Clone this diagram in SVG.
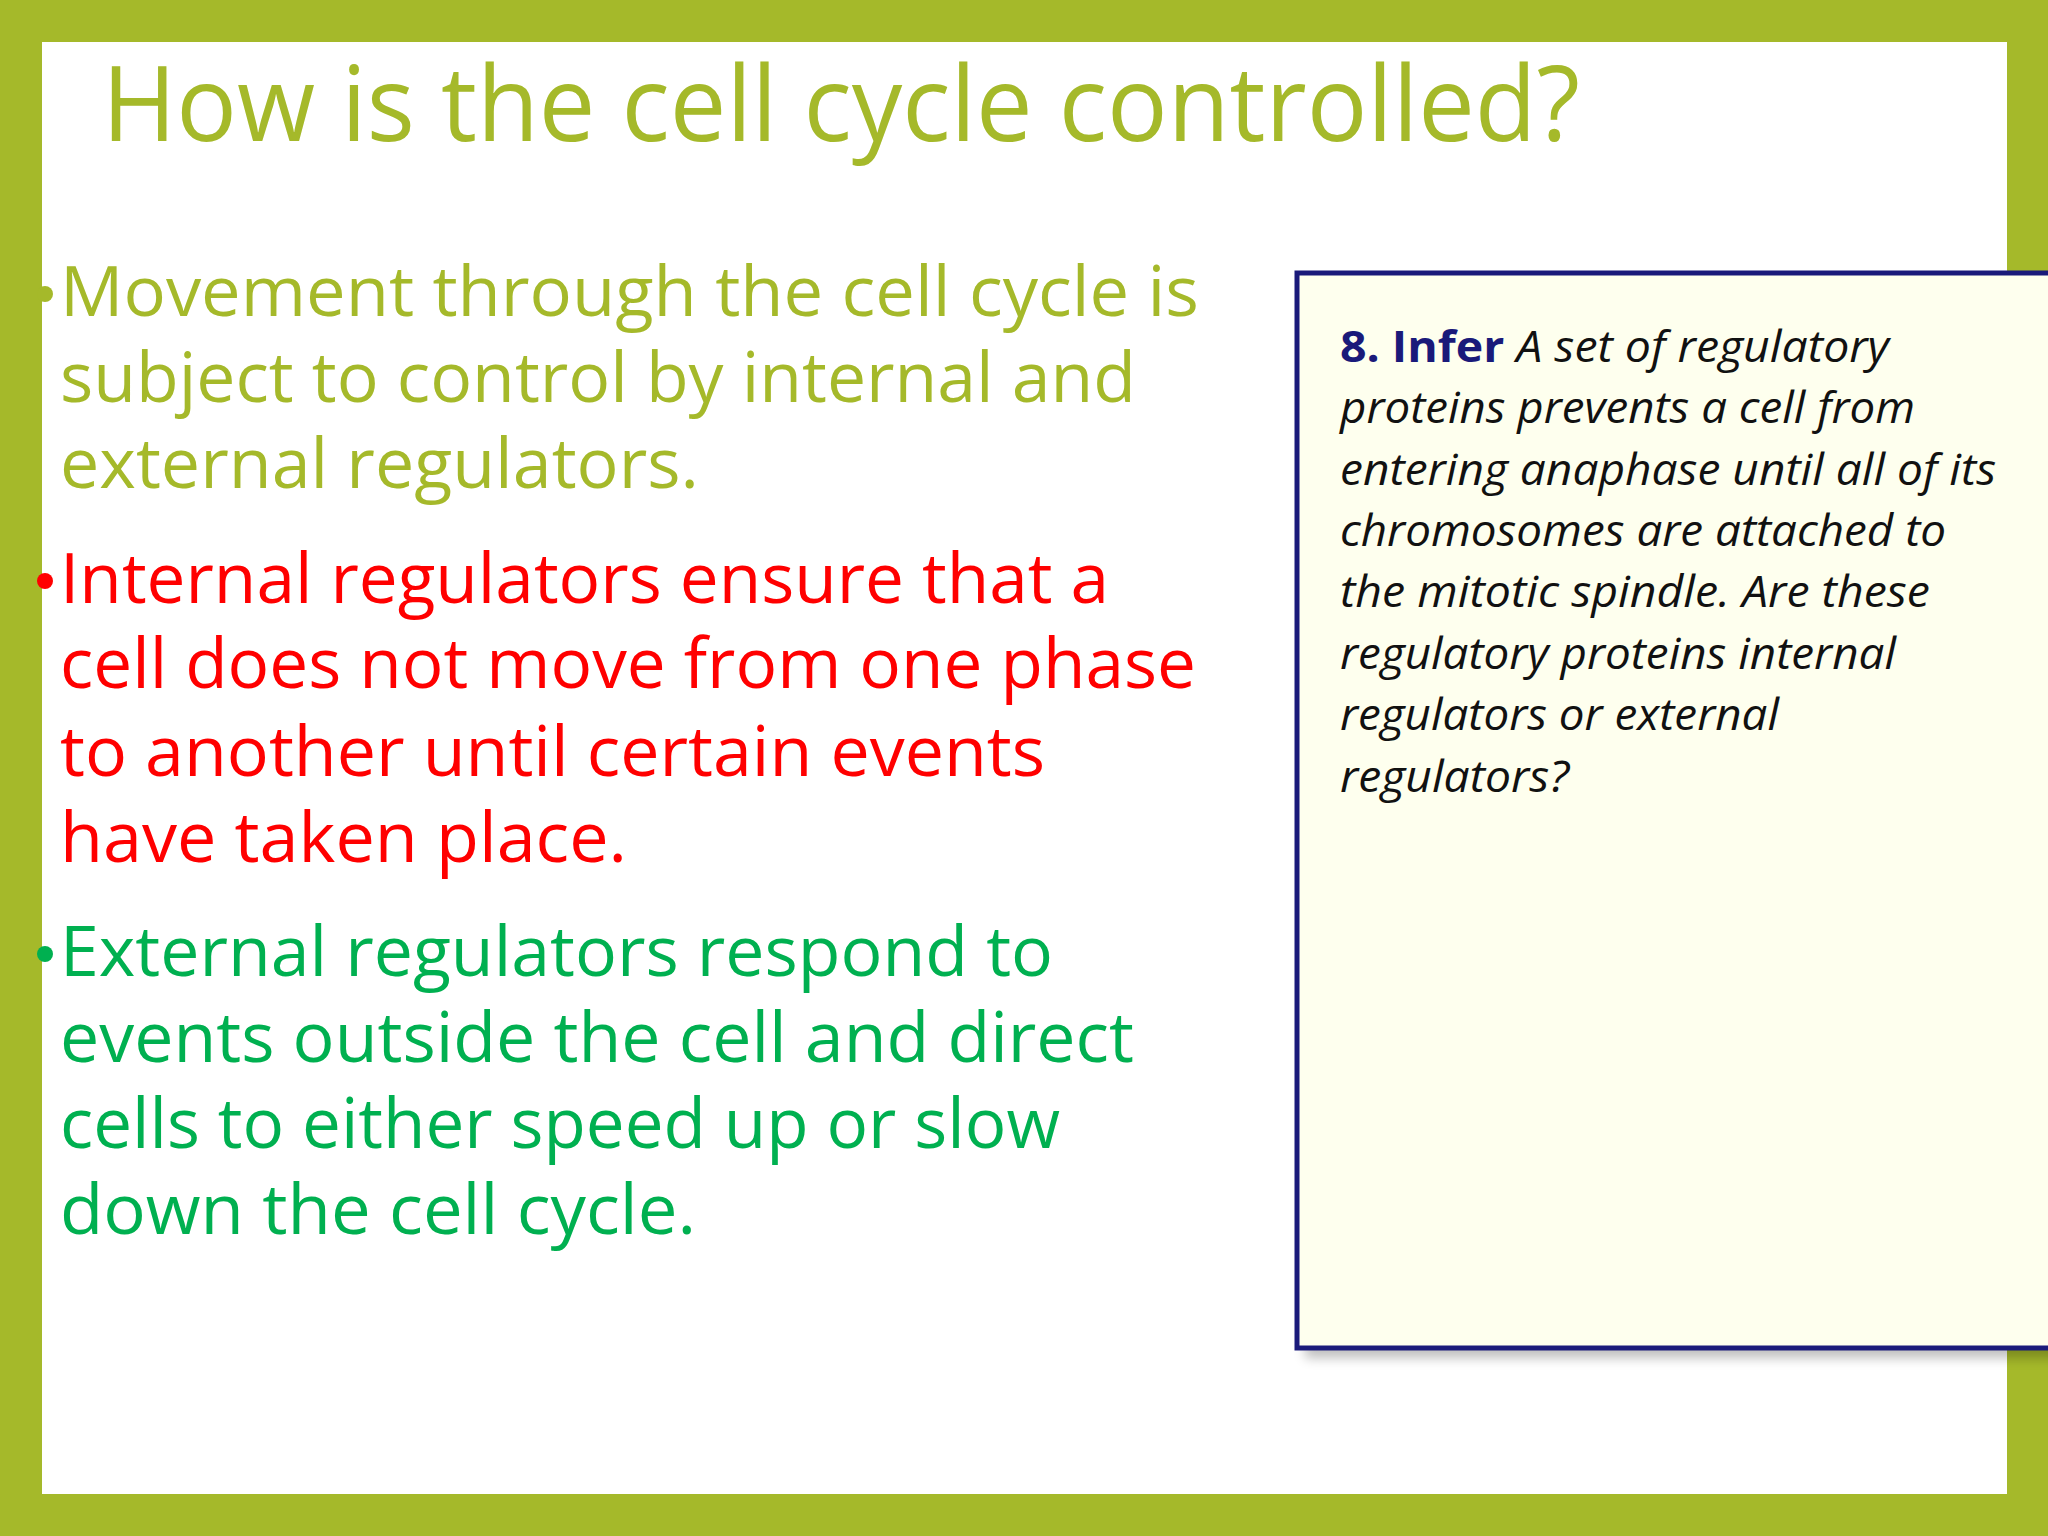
<svg xmlns="http://www.w3.org/2000/svg" width="2048" height="1536" viewBox="0 0 2048 1536">
<defs>
<style>
.t{font-family:"Open Sans","Noto Sans",sans-serif}
.b{font-size:70px}
.g1{fill:#A5B92A}.r{fill:#FF0000}.g2{fill:#00B050}
.q{font-size:43px;font-style:italic;fill:#111}
</style>
<filter id="sh" x="-10%" y="-10%" width="130%" height="130%"><feGaussianBlur stdDeviation="6"/></filter>
</defs>
<rect width="2048" height="1536" fill="#A5B92A"/>
<rect x="42" y="42" width="1965" height="1452" fill="#fff"/>
<g id="title"><text class="t g1" x="102" y="141" font-size="104" textLength="1478" lengthAdjust="spacingAndGlyphs">How is the cell cycle controlled?</text></g>
<g id="bullets" class="t b">
<circle cx="45" cy="294" r="8" class="g1"/>
<text class="g1" x="60" y="316" textLength="1139" lengthAdjust="spacingAndGlyphs">Movement through the cell cycle is</text>
<text class="g1" x="60" y="402" textLength="1076" lengthAdjust="spacingAndGlyphs">subject to control by internal and</text>
<text class="g1" x="60" y="488" textLength="639" lengthAdjust="spacingAndGlyphs">external regulators.</text>
<circle cx="45" cy="581" r="8" class="r"/>
<text class="r" x="60" y="603" textLength="1049" lengthAdjust="spacingAndGlyphs">Internal regulators ensure that a</text>
<text class="r" x="60" y="688" textLength="1136" lengthAdjust="spacingAndGlyphs">cell does not move from one phase</text>
<text class="r" x="60" y="776" textLength="985" lengthAdjust="spacingAndGlyphs">to another until certain events</text>
<text class="r" x="60" y="862" textLength="567" lengthAdjust="spacingAndGlyphs">have taken place.</text>
<circle cx="45" cy="954" r="8" class="g2"/>
<text class="g2" x="60" y="976" textLength="993" lengthAdjust="spacingAndGlyphs">External regulators respond to</text>
<text class="g2" x="60" y="1062" textLength="1074" lengthAdjust="spacingAndGlyphs">events outside the cell and direct</text>
<text class="g2" x="60" y="1148" textLength="1000" lengthAdjust="spacingAndGlyphs">cells to either speed up or slow</text>
<text class="g2" x="60" y="1234" textLength="636" lengthAdjust="spacingAndGlyphs">down the cell cycle.</text>
</g>
<g id="box">
<rect x="1305" y="283" width="760" height="1075" fill="#000" opacity="0.25" filter="url(#sh)"/>
<rect x="1297" y="273" width="770" height="1075" fill="#FEFFEE" stroke="#1A1A7A" stroke-width="5"/>
<g class="t q">
<text x="1340" y="362" textLength="549" lengthAdjust="spacingAndGlyphs"><tspan font-style="normal" font-weight="bold" fill="#1A1A7A">8. Infer</tspan> A set of regulatory</text>
<text x="1340" y="423" textLength="575" lengthAdjust="spacingAndGlyphs">proteins prevents a cell from</text>
<text x="1340" y="485" textLength="656" lengthAdjust="spacingAndGlyphs">entering anaphase until all of its</text>
<text x="1340" y="546" textLength="606" lengthAdjust="spacingAndGlyphs">chromosomes are attached to</text>
<text x="1340" y="607" textLength="590" lengthAdjust="spacingAndGlyphs">the mitotic spindle. Are these</text>
<text x="1340" y="669" textLength="556" lengthAdjust="spacingAndGlyphs">regulatory proteins internal</text>
<text x="1340" y="730" textLength="439" lengthAdjust="spacingAndGlyphs">regulators or external</text>
<text x="1340" y="792" textLength="229" lengthAdjust="spacingAndGlyphs">regulators?</text>
</g>
</g>
</svg>
